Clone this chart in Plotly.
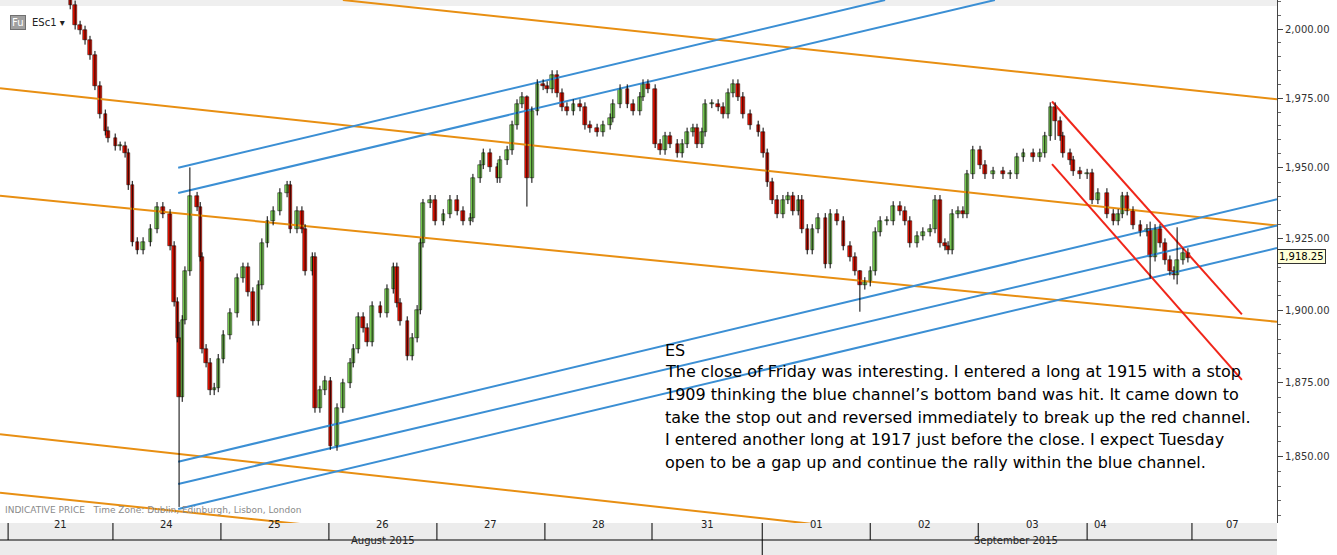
import plotly.graph_objects as go

# trading hours since Aug 21 00:00 (one session ~ 24h on the axis)
t = [13.8, 14.9, 16.0, 17.1, 18.2, 19.3, 20.4, 21.6, 22.2, 23.8, 24.9, 26.0, 26.7, 27.6, 28.7, 30.0, 31.6, 33.1, 34.4, 36.0,
     36.9, 37.6, 38.0, 38.7, 39.3, 40.4, 42.0, 42.7, 43.1, 44.0, 44.9, 45.8, 46.7, 47.8, 49.3, 50.9, 52.2, 53.3, 54.4, 55.6,
     56.4, 57.6, 58.9, 60.4, 62.0, 62.7, 64.2, 65.3, 66.0, 67.6, 68.2, 69.3, 70.4, 71.6, 73.1, 74.4, 76.0, 76.7, 77.8, 78.9,
     79.8, 80.9, 82.7, 84.2, 85.6, 86.4, 87.1, 88.7, 89.8, 90.9, 91.6, 92.2, 93.8, 94.9, 96.7, 98.2, 99.8, 101.1, 102.7, 103.3,
     104.9, 105.6, 107.1, 108.7, 109.3, 110.9, 112.0, 113.1, 114.2, 115.3, 116.4, 117.6, 118.9, 119.8, 120.9, 122.0, 123.1, 124.2, 125.6, 127.1,
     128.2, 129.3, 130.9, 132.2, 133.8, 134.4, 136.0, 137.6, 138.9, 140.4, 141.1, 142.2, 143.8, 144.9, 146.0, 147.1, 148.7, 149.8, 150.9, 152.2,
     153.1, 154.2, 154.9, 156.4, 157.8, 158.9, 160.0, 161.1, 162.2, 163.3, 164.9, 166.7, 167.8, 168.7, 169.8, 170.9, 172.2, 173.3, 174.4, 175.6,
     176.4, 177.6, 178.7, 180.0, 181.6, 182.7, 184.2, 185.6, 187.1, 188.2, 189.3, 190.4, 191.6, 192.7, 193.8, 195.3, 196.7, 198.2, 199.3, 200.4,
     202.0, 203.3, 204.9, 206.0, 207.1, 208.2, 208.9, 209.8, 211.1, 212.2, 213.1, 214.4, 216.0, 217.1, 218.9, 221.1, 222.7, 224.2, 225.6, 227.8,
     229.3, 230.4, 231.6, 232.7, 233.8, 234.4, 236.0, 236.7, 238.2, 239.8, 240.9, 242.2, 244.2, 245.6, 246.7, 247.6, 248.7, 250.0, 251.6, 253.1,
     253.8, 254.9, 256.0, 257.1, 258.2, 259.1, 259.8, 261.1, 262.2]

close = [2008.9, 2001.5, 1999.7, 1996.0, 1990.5, 1979.5, 1969.3, 1963.2, 1960.7, 1957.8, 1957.8, 1955.3, 1943.8, 1923.9, 1921.1, 1923.9, 1928.5, 1936.3, 1933.8, 1922.5,
         1902.9, 1890.5, 1870.1, 1896.7, 1913.7, 1939.9, 1936.3, 1918.6, 1886.7, 1881.9, 1872.4, 1873.4, 1883.3, 1891.5, 1899.1, 1911.2, 1915.0, 1906.4, 1896.3, 1908.8,
         1923.5, 1931.3, 1934.8, 1941.2, 1943.8, 1928.5, 1934.8, 1928.5, 1913.7, 1918.6, 1866.4, 1872.4, 1875.8, 1853.5, 1866.4, 1874.8, 1881.9, 1886.7, 1897.7, 1893.9,
         1889.1, 1901.5, 1899.1, 1907.4, 1915.0, 1902.6, 1896.3, 1884.3, 1890.5, 1900.2, 1923.5, 1937.4, 1938.8, 1931.3, 1933.8, 1938.8, 1934.8, 1931.3, 1932.4, 1946.3,
         1951.2, 1955.3, 1950.2, 1946.3, 1952.7, 1956.3, 1965.3, 1973.0, 1975.6, 1946.3, 1970.4, 1980.2, 1979.5, 1978.4, 1983.5, 1976.9, 1971.9, 1970.4, 1973.0, 1971.9,
         1965.3, 1964.2, 1962.8, 1965.3, 1967.9, 1973.0, 1978.4, 1973.0, 1970.4, 1975.6, 1980.2, 1978.4, 1958.7, 1956.3, 1961.3, 1958.7, 1955.3, 1958.7, 1962.8, 1964.2,
         1958.7, 1962.8, 1973.0, 1973.0, 1971.9, 1969.3, 1976.9, 1980.2, 1975.6, 1969.3, 1965.3, 1962.8, 1955.3, 1944.9, 1938.8, 1933.8, 1938.8, 1939.9, 1934.8, 1938.8,
         1928.5, 1921.1, 1928.5, 1932.4, 1916.2, 1933.8, 1931.3, 1922.5, 1918.6, 1913.7, 1908.8, 1909.9, 1913.7, 1927.4, 1931.3, 1931.3, 1936.6, 1934.8, 1931.3, 1923.5,
         1926.0, 1927.4, 1928.5, 1938.8, 1923.5, 1922.5, 1921.1, 1933.8, 1934.8, 1933.8, 1947.7, 1956.3, 1951.2, 1947.7, 1948.8, 1947.7, 1947.7, 1953.8, 1955.3, 1953.8,
         1955.3, 1961.3, 1971.9, 1966.8, 1961.3, 1955.3, 1952.7, 1948.8, 1947.7, 1948.1, 1938.8, 1941.2, 1933.8, 1931.3, 1933.8, 1939.9, 1934.8, 1929.9, 1927.4, 1928.5,
         1918.6, 1928.5, 1923.5, 1917.5, 1913.7, 1912.3, 1917.5, 1920.0, 1918.25]

first_open = 2012.0
wick = 1.6
# bars with long shadows: index -> (high, low)
spikes = {22: (1896.0, 1833.0), 25: (1950.2, 1912.0), 89: (1976.0, 1936.3), 150: (1914.0, 1899.5),
          53: (1877.0, 1852.2), 200: (1931.0, 1911.0), 206: (1929.0, 1909.0), 183: (1973.5, 1960.0)}

day_starts = [0, 23.3, 47.3, 71.3, 95.3, 119.3, 143.1, 167.6, 191.6, 215.6, 239.8, 263.1]
day_labels = ["21", "24", "25", "26", "27", "28", "31", "01", "02", "03", "04", "07"]
month_labels = ["August 2015", "September 2015"]
month_pos = [83.3, 224.0]
sept_start = 167.6

last_price = 1918.25

# drawn channels: (t0, p0, t1, p1)
orange_lines = [(74.4, 2010.7, 282.0, 1974.6), (-1.8, 1978.6, 282.0, 1929.6), (-1.8, 1940.1, 282.0, 1896.0),
                (-1.8, 1857.5, 178.9, 1827.3), (-1.8, 1837.8, 64.9, 1827.3)]
blue_lines = [(37.8, 1950.1, 194.9, 2010.7), (37.8, 1941.1, 219.3, 2010.7), (37.8, 1848.2, 282.0, 1938.9),
              (37.8, 1840.7, 282.0, 1929.6), (37.8, 1832.3, 282.0, 1921.7)]
red_lines = [(232.0, 1973.8, 274.2, 1898.6), (232.0, 1951.4, 274.2, 1876.0)]

note_title = "ES"
note_lines = ["The close of Friday was interesting. I entered a long at 1915 with a stop",
              "1909 thinking the blue channel\u2019s bottom band was hit. It came down to",
              "take the stop out and reversed immediately to break up the red channel.",
              "I entered another long at 1917 just before the close. I expect Tuesday",
              "open to be a gap up and continue the rally within the blue channel."]

opens = [first_open] + close[:-1]
highs, lows = [], []
for i, (o, c) in enumerate(zip(opens, close)):
    if i in spikes:
        h, l = spikes[i]
        highs.append(max(h, o, c))
        lows.append(min(l, o, c))
    else:
        highs.append(max(o, c) + wick)
        lows.append(min(o, c) - wick)

fig = go.Figure()

for lines, color in [(orange_lines, "#e88f12"), (blue_lines, "#3b8fd4"), (red_lines, "#f0261a")]:
    for t0, p0, t1, p1 in lines:
        fig.add_trace(go.Scatter(x=[t0, t1], y=[p0, p1], mode="lines",
                                 line=dict(color=color, width=2), hoverinfo="skip", showlegend=False))

# wicks
wx, wy = [], []
for x, h, l in zip(t, highs, lows):
    wx += [x, x, None]
    wy += [l, h, None]
fig.add_trace(go.Scatter(x=wx, y=wy, mode="lines", line=dict(color="#000000", width=1),
                         hoverinfo="skip", showlegend=False))

# bodies
body_base = [min(o, c) for o, c in zip(opens, close)]
body_len = [max(abs(c - o), 0.4) for o, c in zip(opens, close)]
body_col = ["#86e35c" if c >= o else "#ff1400" for o, c in zip(opens, close)]
fig.add_trace(go.Bar(x=t, y=body_len, base=body_base, width=0.75,
                     marker=dict(color=body_col, line=dict(color="#000000", width=0.5)),
                     hoverinfo="skip", showlegend=False))

H = 523.0  # plot height in px, for paper placement of texts


def py(px):
    return 1 - px / H


shapes = [
    dict(type="rect", xref="paper", yref="paper", x0=0, x1=1, y0=py(555), y1=0,
         fillcolor="#ececec", line_width=0, layer="below"),
    dict(type="rect", xref="paper", yref="paper", x0=0, x1=1, y0=1 - 6 / H, y1=1,
         fillcolor="#efefef", line_width=0, layer="below"),
    dict(type="line", xref="paper", yref="paper", x0=0, x1=1, y0=py(540), y1=py(540),
         line=dict(color="#000000", width=1)),
    dict(type="line", xref="x", yref="paper", x0=sept_start, x1=sept_start, y0=py(555), y1=py(540),
         line=dict(color="#000000", width=1)),
]
for d in day_starts:
    shapes.append(dict(type="line", xref="x", yref="paper", x0=d, x1=d, y0=py(540), y1=0,
                       line=dict(color="#000000", width=1)))

annotations = []
for i, lab in enumerate(day_labels):
    if lab == "04":
        annotations.append(dict(x=day_starts[i] + 1.0, y=py(532), xref="x", yref="paper", text=lab,
                                showarrow=False, xanchor="left", font=dict(size=10, color="#222")))
    elif lab == "07":
        annotations.append(dict(x=272, y=py(532), xref="x", yref="paper", text=lab,
                                showarrow=False, font=dict(size=10, color="#222")))
    else:
        mid = (day_starts[i] + day_starts[i + 1]) / 2
        annotations.append(dict(x=mid, y=py(532), xref="x", yref="paper", text=lab,
                                showarrow=False, font=dict(size=10, color="#222")))
for lab, pos in zip(month_labels, month_pos):
    annotations.append(dict(x=pos, y=py(548), xref="x", yref="paper", text=lab,
                            showarrow=False, font=dict(size=10, color="#222")))

annotations.append(dict(x=0.002, y=py(517), xref="paper", yref="paper", xanchor="left",
                        text="INDICATIVE PRICE&nbsp;&nbsp;&nbsp;Time Zone: Dublin, Edinburgh, Lisbon, London",
                        showarrow=False, font=dict(size=9, color="#8a8a8a")))
annotations.append(dict(x=10 / 1277, y=py(15), xref="paper", yref="paper", xanchor="left",
                        text="Fu", showarrow=False, bgcolor="#a0a0a0", bordercolor="#707070",
                        font=dict(size=10, color="#ffffff")))
annotations.append(dict(x=30 / 1277, y=py(15), xref="paper", yref="paper", xanchor="left",
                        text="ESc1 \u25be", showarrow=False, font=dict(size=10, color="#222")))

annotations.append(dict(x=663 / 1277, y=py(362), xref="paper", yref="paper", xanchor="left",
                        text=note_title, showarrow=False, font=dict(size=16, color="#000")))
for k, line in enumerate(note_lines):
    annotations.append(dict(x=663 / 1277, y=py(383 + 22.8 * k), xref="paper", yref="paper", xanchor="left",
                            text=line, showarrow=False, font=dict(size=16, color="#000")))

annotations.append(dict(x=1.0, y=py(256), xref="paper", yref="paper", xanchor="left",
                        text=f"{last_price:,.2f}", showarrow=False, bgcolor="#ffffd8",
                        bordercolor="#333", borderwidth=1, font=dict(size=10, color="#000")))

fig.update_layout(
    width=1337, height=555,
    margin=dict(l=0, r=60, t=0, b=32),
    paper_bgcolor="#ffffff", plot_bgcolor="#ffffff",
    font=dict(family="DejaVu Sans", size=10),
    bargap=0,
    xaxis=dict(range=[-1.8, 282.0], showgrid=False, showticklabels=False, zeroline=False, fixedrange=True),
    yaxis=dict(type="log", side="right", range=[3.26189, 3.30335], showgrid=False, zeroline=False,
               tickvals=[1850, 1875, 1900, 1925, 1950, 1975, 2000], tickformat=",.2f",
               ticks="outside", ticklen=5, tickcolor="#444", showline=True, linecolor="#444",
               tickfont=dict(size=10, color="#333"),
               minor=dict(tickvals=list(range(1830, 2011, 5)), ticks="outside", ticklen=3, tickcolor="#666")),
    shapes=shapes, annotations=annotations,
)

fig.write_html("out.html", config={"displayModeBar": False},
               post_script="document.body.style.margin='0';")
